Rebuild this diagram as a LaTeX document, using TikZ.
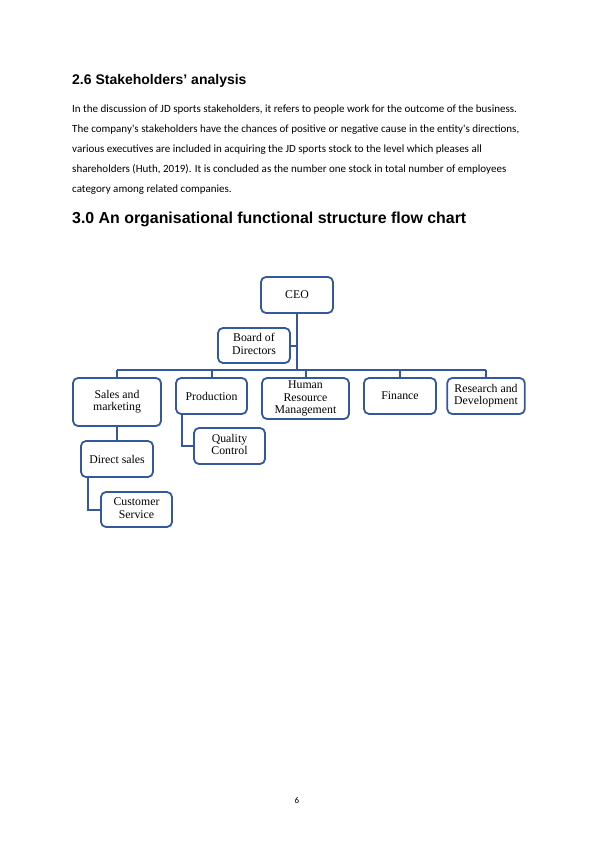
\documentclass[tikz,border=0pt]{standalone}
\usepackage{fontspec}
\setmainfont{Liberation Serif}
\newfontfamily\bodyfont{Carlito}
\newfontfamily\headfont{Liberation Sans}
\usepackage{xcolor}
\usetikzlibrary{positioning}
\definecolor{chartblue}{RGB}{52,88,158}

\begin{document}
\begin{tikzpicture}[x=1pt,y=-1pt,
        orgbox/.style={draw=chartblue, line width=1.8pt, rounded corners=5pt, fill=white, align=center, inner sep=1pt,
            font=\fontsize{11.8}{12.6}\selectfont},
        link/.style={draw=chartblue, line width=2pt},
        bodyline/.style={anchor=base west, inner sep=0pt, font=\bodyfont\fontsize{11}{12}\selectfont}]
        \useasboundingbox[fill=white] (0,0) rectangle (596,842);

        % text of the page
        \node[anchor=base west, inner sep=0pt, font=\headfont\bfseries\fontsize{14}{16}\selectfont] (heading) at (72,85) {2.6 Stakeholders’ analysis};
        \node[bodyline] (line1) at (72,112.5) {In the discussion of JD sports stakeholders, it refers to people work for the outcome of the business.};
        \node[bodyline] (line2) at (72,132.5) {The company's stakeholders have the chances of positive or negative cause in the entity's directions,};
        \node[bodyline] (line3) at (72,152.5) {various executives are included in acquiring the JD sports stock to the level which pleases all};
        \node[bodyline] (line4) at (72,172.5) {shareholders (Huth, 2019). It is concluded as the number one stock in total number of employees};
        \node[bodyline] (line5) at (72,192.5) {category among related companies.};
        \node[anchor=base west, inner sep=0pt, font=\headfont\bfseries\fontsize{15.9}{19}\selectfont] (chart) at (72,223) {3.0 An organisational functional structure flow chart};
        \node[anchor=base, inner sep=0pt, font=\bodyfont\fontsize{9}{10}\selectfont] (pagenum) at (297,803) {6};

        % boxes of the chart
        \node[orgbox, minimum width=72pt, minimum height=36pt] (ceo) at (297,295) {CEO};
        \node[orgbox, minimum width=72pt, minimum height=35pt] (board) at (254,345.5) {\begin{tabular}{c}Board of\\ Directors\end{tabular}};
        \coordinate (bar) at (297,370);
        \node[orgbox, minimum width=88pt, minimum height=48pt] (sales) at (117,402) {\begin{tabular}{c}Sales and\\ marketing\end{tabular}};
        \node[orgbox, minimum width=71pt, minimum height=36pt] (production) at (211.5,396) {Production};
        \node[orgbox, minimum width=87pt, minimum height=41pt] (hrm) at (305.5,398.5) {\begin{tabular}{c}Human\\ Resource\\ Management\end{tabular}};
        \node[orgbox, minimum width=72pt, minimum height=36pt] (finance) at (400,396) {Finance};
        \node[orgbox, minimum width=72pt, minimum height=36pt] (rnd) at (486,396) {\begin{tabular}{c}Research and\\ Development\end{tabular}};
        \node[orgbox, minimum width=72pt, minimum height=36pt] (direct) at (117,459) {Direct sales};
        \node[orgbox, minimum width=71pt, minimum height=35pt] (customer) at (136.5,509.5) {\begin{tabular}{c}Customer\\ Service\end{tabular}};
        \node[orgbox, minimum width=71pt, minimum height=36pt] (quality) at (229.5,446) {\begin{tabular}{c}Quality\\ Control\end{tabular}};

        % connectors
        \draw[link] (ceo.south) -- (ceo.south |- bar);
        \draw[link] (board.east) -- (board.east -| ceo.south);
        \draw[link] (sales.north |- bar) -- (rnd.north |- bar);
        \draw[link] (sales.north |- bar) -- (sales.north);
        \draw[link] (production.north |- bar) -- (production.north);
        \draw[link] (hrm.north |- bar) -- (hrm.north);
        \draw[link] (finance.north |- bar) -- (finance.north);
        \draw[link] (rnd.north |- bar) -- (rnd.north);
        \draw[link] (sales.south) -- (direct.north);
        \draw[link] ([xshift=8pt]direct.south west) |- (customer.west);
        \draw[link] ([xshift=7pt]production.south west) |- (quality.west);
\end{tikzpicture}
\end{document}
